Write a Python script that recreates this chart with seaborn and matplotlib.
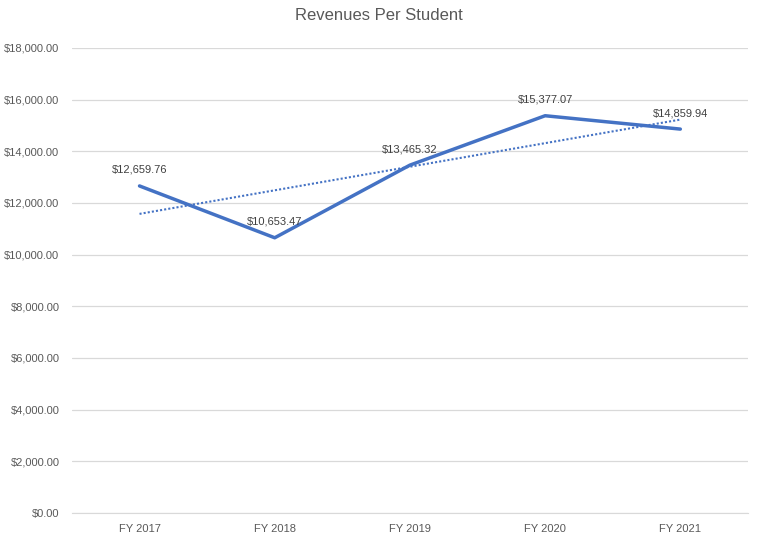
import numpy as np
import seaborn as sns
import matplotlib.pyplot as plt

# data
years = ['FY 2017', 'FY 2018', 'FY 2019', 'FY 2020', 'FY 2021']
revenues = [12659.76, 10653.47, 13465.32, 15377.07, 14859.94]
y_ticks = [0, 2000, 4000, 6000, 8000, 10000, 12000, 14000, 16000, 18000]

sns.set_style('white')
plt.rcParams['font.family'] = ['Liberation Sans', 'DejaVu Sans']

blue = '#4472C4'
grey_text = '#595959'

fig = plt.figure(figsize=(7.57, 5.33), dpi=100)
ax = fig.add_axes([0.095, 0.0375, 0.893, 0.8725])

x = np.arange(len(years))
sns.lineplot(x=x, y=revenues, ax=ax, color=blue, linewidth=2.5)

# linear trendline like Excel
slope, intercept = np.polyfit(x, revenues, 1)
ax.plot(x, slope * x + intercept, color=blue, linewidth=1.5, linestyle=(0, (1, 1)))

for xi, v in zip(x, revenues):
    ax.annotate(f'${v:,.2f}', (xi, v), xytext=(0, 11.5), textcoords='offset points',
                ha='center', va='center', fontsize=8, color='#404040')

ax.set_xlim(-0.5, len(years) - 0.5)
ax.set_ylim(0, 18000)
ax.set_xticks(x)
ax.set_xticklabels(years)
ax.set_yticks(y_ticks)
ax.set_yticklabels([f'${t:,.2f}' for t in y_ticks])
ax.tick_params(axis='both', length=0, labelsize=8, labelcolor=grey_text)
ax.tick_params(axis='y', pad=9)
ax.tick_params(axis='x', pad=8)
ax.grid(axis='y', color='#D9D9D9', linewidth=0.9)
ax.set_axisbelow(True)
for side in ['top', 'right', 'left']:
    ax.spines[side].set_visible(False)
ax.spines['bottom'].set_color('#D9D9D9')

fig.suptitle('Revenues Per Student', x=0.5, y=0.985, fontsize=12, color=grey_text)

plt.savefig('out.png', dpi=100)
